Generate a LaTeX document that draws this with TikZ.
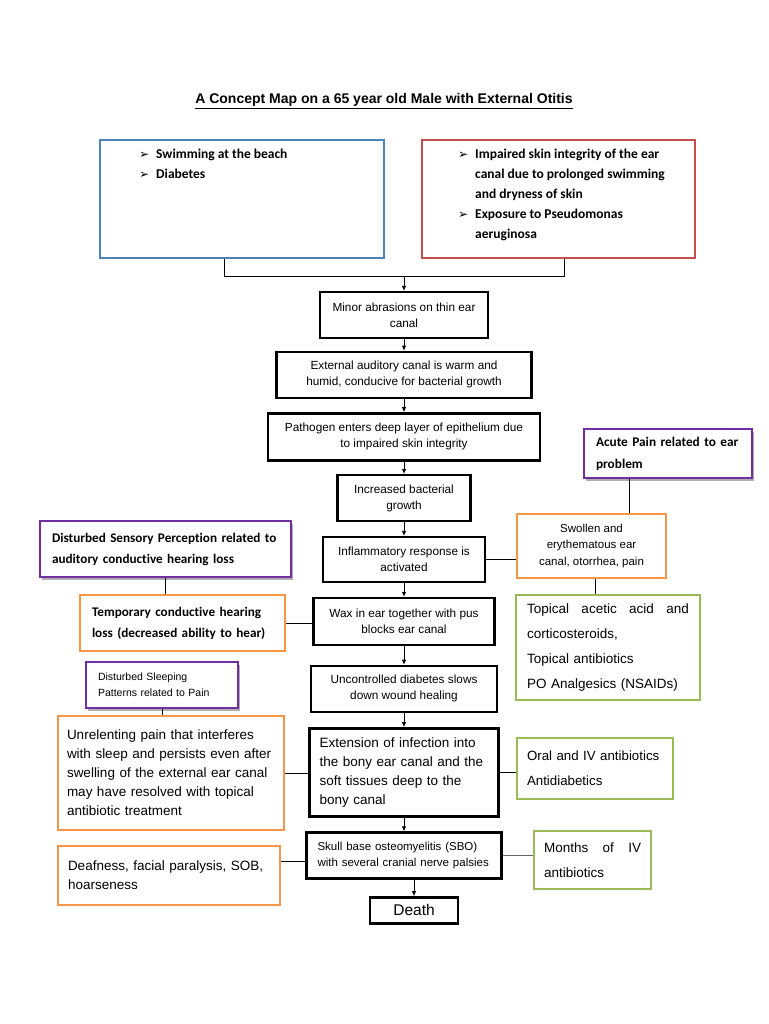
\documentclass[tikz,border=0pt]{standalone}
\usepackage{fontspec}
\setmainfont{Liberation Sans}
\newfontfamily\calfont[Ligatures=NoCommon]{Carlito}
\newfontfamily\symfont{DejaVu Sans}
\usetikzlibrary{positioning,arrows.meta,shadows}

\definecolor{boxblue}{RGB}{79,129,189}
\definecolor{boxred}{RGB}{192,80,77}
\definecolor{boxpurple}{RGB}{112,48,160}
\definecolor{boxorange}{RGB}{247,150,70}
\definecolor{boxgreen}{RGB}{155,187,89}

\hyphenpenalty=10000
\exhyphenpenalty=10000

\newcommand{\fsz}[2]{\fontsize{#1}{#2}\selectfont}
\newcommand{\bul}{\makebox[17pt][l]{\symfont\fontsize{12}{12}\selectfont ➢}}
\newcommand{\ind}{\makebox[17pt][l]{}}

\tikzset{
  flow/.style={draw, line width=2.4pt, align=center, inner sep=0pt, font=\fsz{11.8}{16}},
  care/.style={draw, line width=2.2pt, inner sep=0pt},
  diag/.style={draw=boxpurple, fill=white, line width=2.6pt, inner sep=0pt,
    drop shadow={shadow xshift=2pt, shadow yshift=-2.5pt, fill=black!45, opacity=0.7}},
  link/.style={line width=0.8pt},
  flowarrow/.style={line width=0.8pt, -{Latex[length=5pt,width=4.5pt]}},
}

\begin{document}
\begin{tikzpicture}[x=1pt, y=-1pt, node distance=13pt]
    \useasboundingbox (0,0) rectangle (768,1024);
    \fill[white] (0,0) rectangle (768,1024);

    \node[font=\bfseries\fsz{14}{16}] (title) at (384,101)
        {\underline{A Concept Map on a 65 year old Male with External Otitis}};

    % risk factors
    \node[care, draw=boxblue, minimum width=284pt, minimum height=118pt] (blue) at (242,199) {};
    \node[care, draw=boxred, minimum width=273pt, minimum height=118pt] (red) at (558.5,199) {};
    \node[anchor=north west, inner sep=0pt, align=left, font=\calfont\bfseries\fsz{13.5}{20}] (blueList) at (139,149)
        {\bul Swimming at the beach\\ \bul Diabetes};
    \node[anchor=north west, inner sep=0pt, align=left, font=\calfont\bfseries\fsz{13.5}{20}] (redList) at (458,149)
        {\bul Impaired skin integrity of the ear\\ \ind canal due to prolonged swimming\\ \ind and dryness of skin\\ \bul Exposure to Pseudomonas\\ \ind aeruginosa};

    % main chain
    \node[flow, minimum width=168pt, minimum height=46pt] (minor) at (404,315)
        {Minor abrasions on thin ear\\canal};
    \node[flow, minimum width=255pt, minimum height=46pt] (extaud) [below=11.5pt of minor]
        {External auditory canal is warm and\\humid, conducive for bacterial growth};
    \node[flow, minimum width=272pt, minimum height=47pt] (path) [below=of extaud]
        {Pathogen enters deep layer of epithelium due\\to impaired skin integrity};
    \node[flow, minimum width=133pt, minimum height=46pt] (incr) [below=12.5pt of path]
        {Increased bacterial\\growth};
    \node[flow, minimum width=162pt, minimum height=45pt] (infl) [below=13.5pt of incr]
        {Inflammatory response is\\activated};
    \node[flow, minimum width=181pt, minimum height=47pt] (wax) [below=13.5pt of infl]
        {Wax in ear together with pus\\blocks ear canal};
    \node[flow, minimum width=186pt, minimum height=46pt] (uncon) [below=18.5pt of wax]
        {Uncontrolled diabetes slows\\down wound healing};
    \node[flow, line width=3.2pt, minimum height=88pt, text width=169pt, inner xsep=10pt, align=left, font=\fsz{13.5}{19}] (ext) [below=14pt of uncon]
        {Extension of infection into\\the bony ear canal and the\\soft tissues deep to the\\bony canal};
    \node[flow, minimum height=46pt, text width=173pt, inner xsep=11pt, align=left, font=\fsz{11.5}{16}] (skull) [below=13pt of ext]
        {Skull base osteomyelitis (SBO)\\with several cranial nerve palsies};
    \node[flow, minimum width=88pt, minimum height=26pt, font=\fsz{15.5}{18}] (death) [below=16.5pt of skull, xshift=10pt]
        {Death};

    \foreach \a/\b in {minor/extaud, extaud/path, path/incr, incr/infl, infl/wax, wax/uncon, uncon/ext, ext/skull}
        \draw[flowarrow] (\a) -- (\b);
    \draw[flowarrow] (death.north |- skull.south) -- (death.north);

    \draw[link] ([xshift=-18pt]blue.south) -- ++(0,17) coordinate (jn) -| ([xshift=5.5pt]red.south);
    \draw[flowarrow] (jn -| minor.north) -- (minor.north);

    % right side
    \node[diag, minimum height=49pt, text width=144pt, inner xsep=12pt, align=left, font=\calfont\bfseries\fsz{13.3}{22}] (acute) at (668,453.5)
        {Acute Pain related to ear\\problem};
    \node[care, draw=boxorange, minimum width=149pt, minimum height=64pt, align=center, font=\fsz{11.5}{16.5}] (swollen) at (591.5,546)
        {Swollen and\\erythematous ear\\canal, otorrhea, pain};
    \node[care, draw=boxgreen, minimum height=105pt, text width=162pt, inner xsep=11pt, align=left, font=\fsz{13.5}{25}] (topical) at (608,647.5)
        {\hbox to 162pt{Topical\hfill acetic\hfill acid\hfill and}\\corticosteroids,\\Topical antibiotics\\PO Analgesics (NSAIDs)};
    \node[care, draw=boxgreen, minimum height=61pt, text width=136pt, inner xsep=10pt, align=left, font=\fsz{13.3}{25}] (oral) at (595,768.5)
        {\mbox{Oral and IV antibiotics}\\Antidiabetics};
    \node[care, draw=boxgreen, minimum height=58pt, text width=97pt, inner xsep=10pt, align=left, font=\fsz{13.5}{25}] (months) at (592.5,860)
        {\hbox to 97pt{Months\hfill of\hfill IV}\\antibiotics};

    % left side
    \node[diag, minimum height=56pt, text width=227pt, inner xsep=12pt, align=left, font=\calfont\bfseries\fsz{13.2}{21}] (distSens) at (165.5,549)
        {Disturbed Sensory Perception related to\\auditory conductive hearing loss};
    \node[care, draw=boxorange, minimum height=56pt, text width=181pt, inner xsep=12pt, align=left, font=\calfont\bfseries\fsz{13.2}{21}] (temp) at (182.5,623)
        {Temporary conductive hearing\\loss (decreased ability to hear)};
    \node[diag, minimum height=46pt, text width=128pt, inner xsep=12pt, align=left, font=\fsz{10.5}{16}] (distSleep) at (162,685)
        {Disturbed Sleeping\\Patterns related to Pain};
    \node[care, draw=boxorange, minimum height=114pt, text width=208pt, inner xsep=9pt, align=left, font=\fsz{13.5}{19}] (unrel) at (171,773)
        {\mbox{Unrelenting pain that interferes}\\\mbox{with sleep and persists even after}\\\mbox{swelling of the external ear canal}\\\mbox{may have resolved with topical}\\antibiotic treatment};
    \node[care, draw=boxorange, minimum height=59pt, text width=202pt, inner xsep=10pt, align=left, font=\fsz{13.5}{19}] (deaf) at (169,875.5)
        {\mbox{Deafness, facial paralysis, SOB,}\\hoarseness};

    % links
    \draw[link] (infl.east) -- (infl.east -| swollen.west);
    \draw[link] ([xshift=-39pt]acute.south) -- ([xshift=-39pt]acute.south |- swollen.north);
    \draw[link] ([xshift=4pt]swollen.south) -- ([xshift=4pt]swollen.south |- topical.north);
    \draw[link] (ext.east) -- (ext.east -| oral.west);
    \draw[link, black!60] (skull.east) -- (skull.east -| months.west);
    \draw[link] (distSens.south) -- (distSens.south |- temp.north);
    \draw[link] (temp.east) -- (temp.east -| wax.west);
    \draw[link] (distSleep.south) -- (distSleep.south |- unrel.north);
    \draw[link] (unrel.east) -- (unrel.east -| ext.west);
    \draw[link] ([yshift=-6pt]skull.west) -- ([yshift=-6pt]skull.west -| deaf.east);
\end{tikzpicture}
\end{document}
